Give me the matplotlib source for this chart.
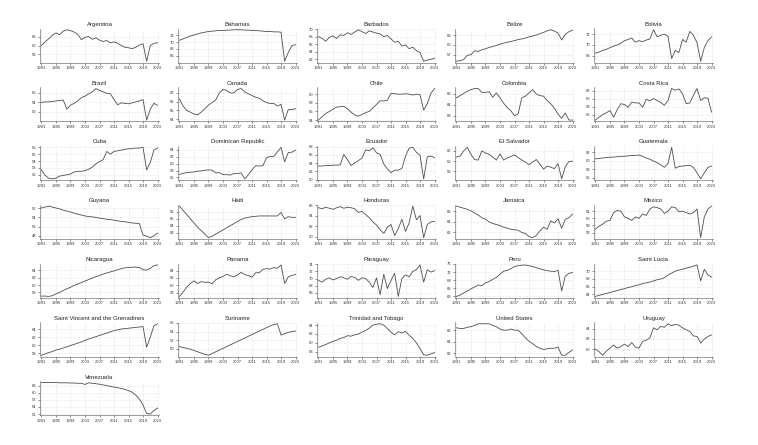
import matplotlib
matplotlib.use("Agg")
import matplotlib.pyplot as plt
from matplotlib.ticker import MaxNLocator, FormatStrFormatter

years = list(range(1991, 2024))
xtick_years = [1991, 1995, 1999, 2003, 2007, 2011, 2015, 2019, 2023]

countries = [
    "Argentina", "Bahamas", "Barbados", "Belize", "Bolivia",
    "Brazil", "Canada", "Chile", "Colombia", "Costa Rica",
    "Cuba", "Dominican Republic", "Ecuador", "El Salvador", "Guatemala",
    "Guyana", "Haiti", "Honduras", "Jamaica", "Mexico",
    "Nicaragua", "Panama", "Paraguay", "Peru", "Saint Lucia",
    "Saint Vincent and the Grenadines", "Suriname", "Trinidad and Tobago", "United States", "Uruguay",
    "Venezuela",
]

argentina = [60.0, 60.8, 61.5, 62.3, 62.8, 62.4, 63.2, 63.5, 63.3, 63.0, 62.5, 61.3, 61.8, 62.0, 61.4, 61.7, 61.2,
             60.9, 61.1, 60.6, 60.8, 60.5, 60.0, 59.6, 59.5, 59.3, 59.6, 60.1, 60.4, 56.5, 60.0, 60.5, 60.6]
bahamas = [70.5, 70.9, 71.3, 71.7, 72.0, 72.3, 72.6, 72.8, 73.0, 73.1, 73.2, 73.3, 73.3, 73.4, 73.4, 73.5, 73.5,
           73.5, 73.4, 73.4, 73.3, 73.3, 73.2, 73.1, 73.0, 73.0, 72.9, 72.9, 72.8, 64.5, 67.0, 69.0, 69.2]
barbados = [68.0, 67.5, 66.8, 67.8, 68.2, 67.5, 68.5, 68.3, 69.0, 68.6, 69.2, 69.8, 69.3, 68.8, 69.5, 69.2, 68.9,
            68.7, 68.0, 68.3, 67.4, 66.5, 66.8, 65.5, 65.8, 64.8, 65.2, 64.3, 63.8, 61.5, 61.8, 62.0, 62.3]
belize = [55.0, 55.2, 55.5, 56.8, 57.0, 58.2, 58.0, 58.5, 58.8, 59.2, 59.5, 59.8, 60.2, 60.5, 60.8, 61.0, 61.3,
          61.6, 61.8, 62.1, 62.4, 62.7, 63.0, 63.4, 63.8, 64.3, 64.6, 64.2, 63.6, 61.5, 63.2, 64.0, 64.5]
bolivia = [68.5, 68.7, 69.0, 69.2, 69.5, 69.8, 70.0, 70.3, 70.8, 71.0, 71.3, 70.5, 70.8, 70.6, 70.9, 71.1, 72.8,
           71.5, 71.8, 72.0, 71.6, 67.5, 69.0, 68.6, 71.0, 70.5, 72.5, 71.8, 70.4, 67.0, 69.5, 70.8, 71.5]
brazil = [54.0, 54.1, 54.1, 54.2, 54.3, 54.4, 54.5, 52.6, 53.4, 53.8, 54.3, 55.0, 55.3, 55.8, 56.2, 56.9, 56.5,
          56.2, 55.9, 55.8, 54.6, 53.5, 53.9, 53.8, 53.7, 53.9, 54.1, 54.3, 54.6, 50.3, 52.6, 53.8, 53.4]
canada = [66.3, 65.5, 65.0, 64.8, 64.6, 64.5, 64.8, 65.2, 65.6, 65.9, 66.2, 67.0, 67.4, 67.3, 67.0, 67.0, 67.4,
          67.5, 67.1, 66.9, 66.7, 66.5, 66.4, 66.1, 65.9, 65.8, 65.8, 65.5, 65.7, 63.9, 65.1, 65.1, 65.2]
chile = [54.0, 54.8, 55.5, 56.0, 56.5, 57.0, 57.1, 57.2, 56.6, 55.8, 55.2, 54.9, 55.3, 55.7, 56.0, 56.8, 57.6,
         58.5, 58.4, 58.6, 60.2, 60.1, 60.0, 60.0, 60.1, 60.0, 59.8, 60.0, 59.9, 56.3, 57.8, 60.2, 61.3]
colombia = [65.3, 65.7, 66.1, 66.5, 66.8, 67.0, 67.0, 66.3, 66.3, 66.4, 65.4, 66.2, 65.3, 64.3, 63.5, 62.9, 62.0,
            62.3, 65.3, 65.6, 66.2, 66.8, 66.0, 65.7, 65.6, 64.8, 64.2, 63.4, 62.3, 61.5, 62.5, 61.2, 61.2]
costa_rica = [54.7, 55.4, 56.1, 56.5, 57.1, 55.4, 57.3, 58.8, 58.6, 57.9, 59.2, 59.0, 59.0, 57.9, 59.9, 59.5, 60.1,
              59.6, 59.1, 58.4, 59.6, 62.6, 62.2, 62.5, 61.3, 58.8, 59.0, 60.9, 62.6, 59.6, 60.3, 60.2, 56.7]
cuba = [52.7, 51.9, 51.5, 51.4, 51.5, 51.8, 51.9, 52.0, 52.1, 52.4, 52.5, 52.5, 52.6, 52.8, 53.1, 53.6, 53.9,
        54.2, 55.4, 55.0, 55.4, 55.5, 55.6, 55.7, 55.8, 55.8, 55.9, 55.9, 56.0, 52.7, 53.8, 55.6, 55.9]
dominican_republic = [56.9, 57.2, 57.4, 57.5, 57.6, 57.8, 57.9, 58.1, 58.2, 58.1, 57.3, 57.4, 56.8, 56.8, 56.7, 57.1, 57.1,
                      57.3, 55.6, 56.8, 58.2, 59.4, 59.3, 59.4, 61.7, 62.1, 62.1, 63.4, 64.7, 60.5, 63.2, 63.3, 63.9]
ecuador = [63.3, 63.3, 63.4, 63.4, 63.5, 63.5, 63.6, 66.1, 64.8, 63.4, 64.0, 64.6, 65.2, 67.2, 67.0, 67.7, 66.5,
           66.1, 63.8, 62.6, 61.7, 62.3, 62.3, 62.7, 65.7, 67.6, 67.8, 66.6, 65.9, 60.2, 65.5, 65.7, 65.3]
el_salvador = [60.8, 61.0, 62.0, 62.7, 61.3, 60.3, 60.2, 62.0, 61.6, 61.3, 60.8, 60.2, 61.4, 60.2, 60.6, 60.9, 61.2,
               60.7, 60.2, 59.8, 59.3, 59.8, 60.3, 59.4, 58.4, 59.0, 58.8, 58.5, 59.5, 56.5, 58.9, 59.9, 60.0]
guatemala = [60.4, 60.5, 60.6, 60.7, 60.8, 60.8, 60.9, 61.0, 61.0, 61.1, 61.2, 61.2, 61.3, 61.0, 60.6, 60.3, 59.9,
             59.5, 59.0, 58.4, 59.3, 63.1, 58.2, 58.6, 58.7, 58.8, 58.9, 58.4, 57.1, 55.7, 57.1, 58.4, 58.7]
guyana = [57.1, 57.4, 57.7, 57.4, 57.1, 56.8, 56.4, 56.1, 55.8, 55.4, 55.1, 54.8, 54.5, 54.3, 54.2, 54.0, 53.8,
          53.6, 53.4, 53.3, 53.1, 52.9, 52.7, 52.6, 52.4, 52.2, 52.1, 52.0, 48.2, 47.9, 47.4, 48.0, 48.9]
haiti = [66.8, 66.2, 65.6, 65.0, 64.4, 63.8, 63.3, 62.8, 62.3, 62.5, 62.8, 63.1, 63.4, 63.7, 64.0, 64.3, 64.6,
         64.9, 65.1, 65.2, 65.3, 65.35, 65.4, 65.4, 65.4, 65.4, 65.4, 65.4, 65.9, 65.0, 65.3, 65.2, 65.2]
honduras = [65.5, 65.3, 65.6, 65.4, 65.2, 65.5, 65.7, 65.4, 65.6, 65.5, 65.3, 64.6, 64.8, 64.2, 63.6, 62.8, 62.2,
            61.3, 60.6, 61.8, 62.3, 60.2, 61.5, 63.3, 61.0, 62.6, 65.8, 63.2, 64.0, 59.8, 62.3, 62.8, 62.9]
jamaica = [67.0, 66.8, 66.6, 66.4, 66.1, 65.7, 65.3, 64.8, 64.5, 64.0, 63.7, 63.5, 63.3, 63.0, 62.8, 62.6, 62.5,
           62.4, 62.0, 61.8, 61.2, 61.0, 61.4, 62.3, 63.0, 62.6, 64.2, 63.8, 64.6, 62.8, 64.5, 64.8, 65.5]
mexico = [58.5, 58.9, 59.2, 59.6, 59.7, 60.8, 61.1, 61.0, 60.2, 60.0, 59.7, 60.2, 60.0, 60.6, 60.4, 61.3, 61.6,
          61.5, 61.3, 60.7, 61.0, 61.6, 61.5, 60.9, 61.0, 60.8, 60.6, 60.8, 61.3, 57.3, 60.2, 61.3, 61.7]
nicaragua = [57.0, 57.0, 56.9, 57.1, 57.6, 58.0, 58.5, 59.0, 59.4, 59.9, 60.3, 60.7, 61.1, 61.5, 61.9, 62.3, 62.6,
             63.0, 63.3, 63.6, 63.9, 64.2, 64.5, 64.7, 64.8, 64.9, 64.9, 64.8, 64.2, 64.1, 64.6, 65.3, 65.5]
panama = [57.0, 58.2, 59.5, 60.5, 61.2, 60.5, 61.0, 60.8, 60.9, 60.4, 61.5, 62.0, 62.4, 63.0, 62.6, 62.3, 62.8,
          63.5, 62.9, 62.6, 62.2, 63.4, 63.4, 64.3, 64.5, 64.4, 64.8, 64.6, 65.5, 60.5, 62.3, 62.7, 62.9]
paraguay = [69.5, 69.0, 69.8, 70.2, 69.6, 70.0, 70.5, 70.2, 69.8, 70.6, 70.3, 69.5, 70.2, 70.0, 69.0, 67.5, 70.2,
            65.5, 71.2, 67.2, 69.5, 71.5, 65.0, 70.0, 71.0, 70.5, 72.0, 72.5, 73.8, 69.0, 72.5, 71.8, 72.2]
peru = [63.0, 63.5, 64.3, 65.0, 65.8, 66.5, 67.2, 67.0, 68.0, 68.5, 69.3, 70.0, 71.2, 72.3, 72.6, 73.2, 74.0,
        74.3, 74.5, 74.6, 74.3, 74.0, 73.6, 73.2, 72.8, 72.5, 72.3, 72.2, 72.6, 65.0, 70.5, 71.5, 71.8]
saint_lucia = [63.5, 63.8, 64.0, 64.3, 64.5, 64.8, 65.0, 65.3, 65.5, 65.8, 66.0, 66.3, 66.5, 66.8, 67.0, 67.2, 67.5,
               67.8, 68.0, 68.3, 69.0, 69.5, 70.0, 70.3, 70.5, 70.8, 71.0, 71.3, 71.6, 67.5, 70.5, 69.0, 68.5]
saint_vincent = [57.5, 57.8, 58.2, 58.4, 58.8, 59.0, 59.3, 59.6, 59.9, 60.2, 60.5, 60.8, 61.2, 61.5, 61.8, 62.1, 62.4,
                 62.7, 63.0, 63.3, 63.6, 63.8, 64.0, 64.1, 64.2, 64.3, 64.4, 64.5, 64.6, 59.5, 62.0, 64.8, 65.3]
suriname = [50.5, 50.3, 50.1, 49.9, 49.6, 49.3, 49.0, 48.7, 48.5, 48.9, 49.3, 49.7, 50.1, 50.5, 50.9, 51.3, 51.7,
            52.1, 52.5, 52.9, 53.3, 53.7, 54.1, 54.5, 54.9, 55.3, 55.6, 55.8, 53.2, 53.5, 53.8, 54.0, 54.1]
trinidad = [59.0, 59.3, 59.6, 60.0, 60.3, 60.6, 61.0, 61.2, 61.6, 61.5, 61.8, 62.0, 62.4, 62.8, 63.3, 64.0, 64.2,
            64.3, 64.0, 63.2, 62.4, 61.8, 62.5, 62.2, 62.6, 61.7, 61.0, 60.0, 58.7, 57.3, 57.2, 57.5, 57.8]
united_states = [66.4, 66.3, 66.3, 66.5, 66.6, 66.8, 67.1, 67.1, 67.1, 67.1, 66.8, 66.6, 66.2, 66.0, 66.0, 66.2, 66.0,
                 66.0, 65.4, 64.7, 64.1, 63.7, 63.2, 62.9, 62.7, 62.8, 62.9, 62.9, 63.1, 61.7, 61.7, 62.2, 62.6]
uruguay = [60.0, 59.5, 58.8, 59.6, 60.2, 60.8, 60.2, 60.5, 61.0, 60.5, 61.3, 60.4, 60.2, 61.5, 61.8, 62.2, 64.2,
           63.8, 64.5, 64.3, 65.0, 64.6, 64.9, 64.7, 64.2, 63.8, 63.5, 62.6, 62.5, 61.2, 62.0, 62.5, 62.8]
venezuela = [64.3, 64.3, 64.3, 64.3, 64.3, 64.2, 64.2, 64.2, 64.1, 64.1, 64.0, 64.0, 63.5, 64.2, 64.0, 63.8, 63.6,
             63.3, 63.0, 62.7, 62.4, 62.1, 61.8, 61.4, 60.9, 60.2, 59.0, 57.3, 54.8, 51.2, 51.0, 52.5, 53.5]

series = [
    argentina, bahamas, barbados, belize, bolivia,
    brazil, canada, chile, colombia, costa_rica,
    cuba, dominican_republic, ecuador, el_salvador, guatemala,
    guyana, haiti, honduras, jamaica, mexico,
    nicaragua, panama, paraguay, peru, saint_lucia,
    saint_vincent, suriname, trinidad, united_states, uruguay,
    venezuela,
]

W, H = 758, 445
col_left = [40, 178, 317, 455, 594]   # pixel positions of the panel columns
ax_w, ax_h = 119, 34
row_top0, row_pitch = 28.5, 58.8


def main():
    plt.rcParams["font.family"] = ["Liberation Sans", "DejaVu Sans"]
    fig = plt.figure(figsize=(W / 100, H / 100), dpi=100)

    for i, (name, vals) in enumerate(zip(countries, series)):
        r, c = divmod(i, 5)
        top = row_top0 + r * row_pitch
        ax = fig.add_axes([col_left[c] / W, 1 - (top + ax_h) / H, ax_w / W, ax_h / H])
        ax.plot(years, vals, color="#4d4d4d", linewidth=0.6)
        ax.set_title(name, fontsize=4.3, pad=2, color="#222222")
        ax.set_xticks(xtick_years)
        ax.set_xlim(1990.6, 2023.4)
        ax.margins(y=0.04)
        ax.yaxis.set_major_locator(MaxNLocator(nbins=5, integer=True))
        ax.yaxis.set_major_formatter(FormatStrFormatter("%d"))
        ax.tick_params(labelsize=3.0, length=1.5, width=0.4, pad=1, colors="#333333")
        ax.grid(True, linestyle="--", color="#e3e3e3", linewidth=0.4)
        for s in ["top", "right"]:
            ax.spines[s].set_visible(False)
        for s in ["left", "bottom"]:
            ax.spines[s].set_linewidth(0.4)
            ax.spines[s].set_color("#555555")

    fig.savefig("out.png", dpi=100)


if __name__ == "__main__":
    main()
